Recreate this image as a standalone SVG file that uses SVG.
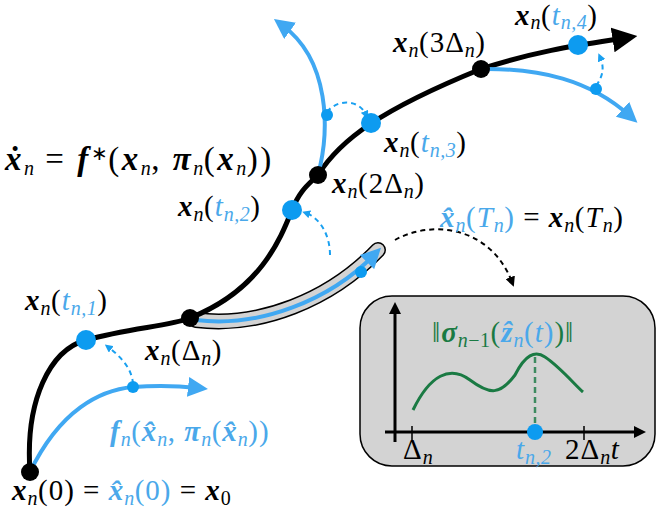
<svg xmlns="http://www.w3.org/2000/svg" width="660" height="512" viewBox="0 0 660 512">
<style>
.m{font-family:"Liberation Serif",serif;font-size:29px;letter-spacing:1px;fill:#000}
.big{font-size:33px;letter-spacing:2.5px}
.b{font-weight:bold;font-style:italic}
.i{font-style:italic}
.s{font-size:20px;letter-spacing:0.5px}
.bl{fill:#4aa8ea}
.gr{fill:#1a7a43}
.blk{fill:none;stroke:#000;stroke-width:5;stroke-linecap:round}
.blu{fill:none;stroke:#40a8f2;stroke-width:4;stroke-linecap:round}
.dash{fill:none;stroke:#1aa0f0;stroke-width:2;stroke-dasharray:5 4}
</style>
<defs>
<marker id="ab" viewBox="0 0 10 10" refX="5" refY="5" markerWidth="5" markerHeight="5" orient="auto"><path d="M0,0L10,5L0,10z" fill="#40a8f2"/></marker>
<marker id="ak" viewBox="0 0 10 10" refX="5" refY="5" markerWidth="5" markerHeight="5" orient="auto"><path d="M0,0L10,5L0,10z" fill="#000"/></marker>
<marker id="ad" viewBox="0 0 10 10" refX="5" refY="5" markerWidth="4" markerHeight="4" orient="auto"><path d="M0,0L10,5L0,10z" fill="#1aa0f0"/></marker>
<marker id="adk" viewBox="0 0 10 10" refX="5" refY="5" markerWidth="5" markerHeight="5" orient="auto"><path d="M0,0L10,5L0,10z" fill="#000"/></marker>
<marker id="ax" viewBox="0 0 10 10" refX="5" refY="5" markerWidth="4" markerHeight="4" orient="auto"><path d="M0,0L10,5L0,10z" fill="#000"/></marker>
</defs>
<g id="connectors">
<path d="M196,320 C260,328 330,300 378,250" fill="none" stroke="#000" stroke-width="16" stroke-linecap="round"/>
<path d="M196,320 C260,328 330,300 378,250" fill="none" stroke="#d3d3d3" stroke-width="13" stroke-linecap="round"/>
<path class="blk" d="M30,472 C25,400 50,350 86,340 C130,328 170,326 190,318 C260,290 280,240 292,210 C300,190 308,185 318,175 C340,140 380,110 481,69 C540,50 580,45 625,38" marker-end="url(#ak)"/>
<path class="blu" d="M30,472 C60,410 100,390 133,387 C160,385 180,386 198,388" marker-end="url(#ab)"/>
<path class="blu" d="M318,175 C330,130 330,60 282,25" marker-end="url(#ab)"/>
<path class="blu" d="M481,69 C540,68 590,80 630,116" marker-end="url(#ab)"/>
<path class="blu" stroke-width="3" d="M196,320 C260,328 330,300 374,255" marker-end="url(#ab)"/>
<path class="dash" d="M133,384 C132,368 120,356 108,347" marker-end="url(#ad)"/>
<path class="dash" d="M327,112 C338,98 360,100 366,115" marker-end="url(#ad)"/>
<path class="dash" d="M596,86 C604,75 604,66 600,57" marker-end="url(#ad)"/>
<path class="dash" d="M330,255 C330,235 320,218 306,213" marker-end="url(#ad)"/>
<path d="M395,240 C430,220 490,225 512,282" fill="none" stroke="#000" stroke-width="2" stroke-dasharray="5 4" marker-end="url(#adk)"/>
</g>
<g id="dots">
<circle cx="30" cy="472" r="9" fill="#000"/>
<circle cx="190" cy="318" r="9" fill="#000"/>
<circle cx="318" cy="175" r="9" fill="#000"/>
<circle cx="481" cy="69" r="9" fill="#000"/>
<circle cx="86" cy="340" r="10" fill="#0d9bf0"/>
<circle cx="292" cy="210" r="10" fill="#0d9bf0"/>
<circle cx="371" cy="123" r="10" fill="#0d9bf0"/>
<circle cx="578" cy="45" r="10" fill="#0d9bf0"/>
<circle cx="133" cy="387" r="6" fill="#0d9bf0"/>
<circle cx="327" cy="115" r="6" fill="#0d9bf0"/>
<circle cx="596" cy="89" r="6" fill="#0d9bf0"/>
<circle cx="361" cy="272" r="6" fill="#0d9bf0"/>
</g>
<g id="box">
<rect x="360" y="296" width="295" height="170" rx="32" fill="#d3d3d3" stroke="#000" stroke-width="1.5"/>
<path d="M395,442 V308" stroke="#000" stroke-width="3" marker-end="url(#ax)"/>
<path d="M385,432 H640" stroke="#000" stroke-width="3" marker-end="url(#ax)"/>
<path d="M412,426V440M584,426V440" stroke="#000" stroke-width="1.5"/>
<path d="M413,410 C430,375 450,365 470,380 C490,395 500,395 515,375 C525,355 535,350 545,357 C560,367 575,385 583,392" fill="none" stroke="#1a7a43" stroke-width="3"/>
<path d="M535,357V432" stroke="#3d8a5f" stroke-width="2.5" stroke-dasharray="6 4"/>
<circle cx="535" cy="432" r="8" fill="#0d9bf0"/>
<text class="m" x="432" y="342"><tspan class="gr">‖</tspan><tspan class="gr b">σ</tspan><tspan class="gr i s" dy="5">n</tspan><tspan class="gr s" dy="0">−1</tspan><tspan class="gr" dy="-5">(</tspan><tspan class="bl b">ẑ</tspan><tspan class="bl i s" dy="5">n</tspan><tspan class="bl" dy="-5">(</tspan><tspan class="bl i">t</tspan><tspan class="bl">)</tspan><tspan class="gr">)‖</tspan></text>
<text class="m" x="403" y="459">Δ<tspan class="i s" dy="5">n</tspan></text>
<text class="m i bl" x="516" y="459">t<tspan class="s" dy="5">n,2</tspan></text>
<text class="m" x="565" y="459">2Δ<tspan class="i s" dy="5">n</tspan><tspan class="i" dy="-5">t</tspan></text>
</g>
<g id="labels">
<text class="m big" x="5" y="170"><tspan class="b">ẋ</tspan><tspan class="i s" dy="5">n</tspan><tspan dy="-5"> = </tspan><tspan class="b">f</tspan><tspan class="s" dy="-10">∗</tspan><tspan dy="10">(</tspan><tspan class="b">x</tspan><tspan class="i s" dy="5">n</tspan><tspan dy="-5">, </tspan><tspan class="b">π</tspan><tspan class="i s" dy="5">n</tspan><tspan dy="-5">(</tspan><tspan class="b">x</tspan><tspan class="i s" dy="5">n</tspan><tspan dy="-5">))</tspan></text>
<text class="m" x="393" y="52"><tspan class="b">x</tspan><tspan class="i s" dy="5">n</tspan><tspan dy="-5">(3Δ</tspan><tspan class="i s" dy="5">n</tspan><tspan dy="-5">)</tspan></text>
<text class="m" x="515" y="25"><tspan class="b">x</tspan><tspan class="i s" dy="4">n</tspan><tspan dy="-4">(</tspan><tspan class="i bl">t</tspan><tspan class="i s bl" dy="4">n,4</tspan><tspan dy="-4">)</tspan></text>
<text class="m" x="384" y="152"><tspan class="b">x</tspan><tspan class="i s" dy="5">n</tspan><tspan dy="-5">(</tspan><tspan class="i bl">t</tspan><tspan class="i s bl" dy="5">n,3</tspan><tspan dy="-5">)</tspan></text>
<text class="m" x="332" y="193"><tspan class="b">x</tspan><tspan class="i s" dy="5">n</tspan><tspan dy="-5">(2Δ</tspan><tspan class="i s" dy="5">n</tspan><tspan dy="-5">)</tspan></text>
<text class="m" x="178" y="216"><tspan class="b">x</tspan><tspan class="i s" dy="5">n</tspan><tspan dy="-5">(</tspan><tspan class="i bl">t</tspan><tspan class="i s bl" dy="5">n,2</tspan><tspan dy="-5">)</tspan></text>
<text class="m" x="440" y="227"><tspan class="b bl">x̂</tspan><tspan class="i s bl" dy="5">n</tspan><tspan class="bl" dy="-5">(</tspan><tspan class="i bl">T</tspan><tspan class="i s bl" dy="5">n</tspan><tspan class="bl" dy="-5">)</tspan><tspan> = </tspan><tspan class="b">x</tspan><tspan class="i s" dy="5">n</tspan><tspan dy="-5">(</tspan><tspan class="i">T</tspan><tspan class="i s" dy="5">n</tspan><tspan dy="-5">)</tspan></text>
<text class="m" x="25" y="310"><tspan class="b">x</tspan><tspan class="i s" dy="5">n</tspan><tspan dy="-5">(</tspan><tspan class="i bl">t</tspan><tspan class="i s bl" dy="5">n,1</tspan><tspan dy="-5">)</tspan></text>
<text class="m" x="145" y="360"><tspan class="b">x</tspan><tspan class="i s" dy="5">n</tspan><tspan dy="-5">(Δ</tspan><tspan class="i s" dy="5">n</tspan><tspan dy="-5">)</tspan></text>
<text class="m bl" x="110" y="441"><tspan class="b">f</tspan><tspan class="i s" dy="5">n</tspan><tspan dy="-5">(</tspan><tspan class="b">x̂</tspan><tspan class="i s" dy="5">n</tspan><tspan dy="-5">, </tspan><tspan class="b">π</tspan><tspan class="i s" dy="5">n</tspan><tspan dy="-5">(</tspan><tspan class="b">x̂</tspan><tspan class="i s" dy="5">n</tspan><tspan dy="-5">))</tspan></text>
<text class="m" x="12" y="500"><tspan class="b">x</tspan><tspan class="i s" dy="5">n</tspan><tspan dy="-5">(0) = </tspan><tspan class="b bl">x̂</tspan><tspan class="i s bl" dy="5">n</tspan><tspan class="bl" dy="-5">(0)</tspan><tspan> = </tspan><tspan class="b">x</tspan><tspan class="s" dy="5">0</tspan></text>
</g>
</svg>
